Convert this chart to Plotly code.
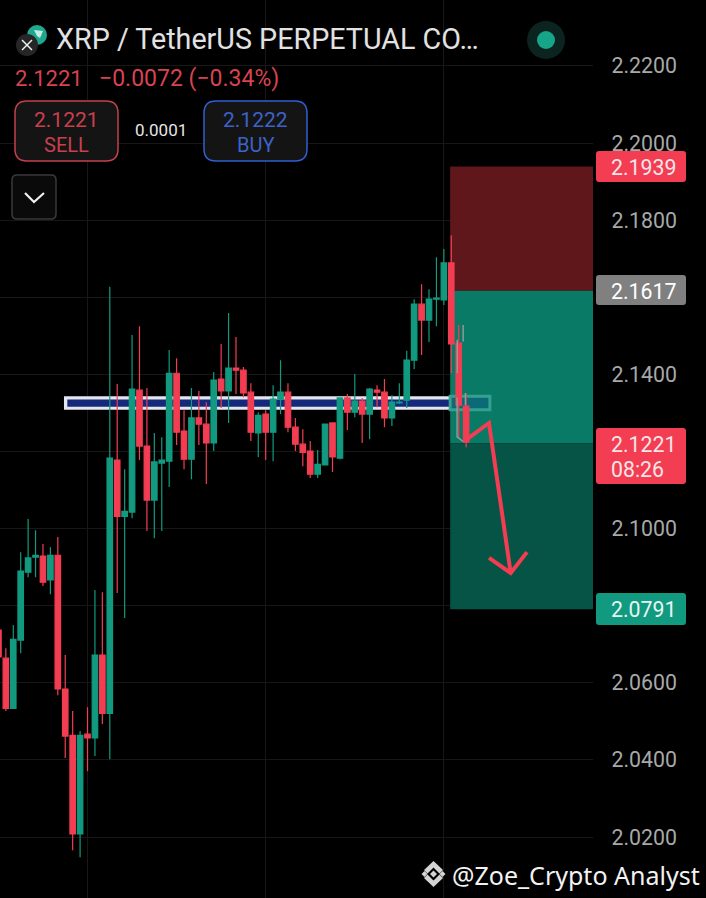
import plotly.graph_objects as go

W, H = 706, 898

# ---- data ----
opens = [2.0737,2.0664,2.0534,2.0711,2.0887,2.0926,2.0929,2.0867,2.0931,2.0584,2.0464,2.0208,2.0467,2.0457,2.0672,2.0521,
         2.1178,2.1032,2.1043,2.1359,2.1214,2.1074,2.1170,2.1175,2.1403,2.1253,2.1180,2.1287,2.1271,2.1222,2.1388,2.1357,
         2.1416,2.1411,2.1354,2.1248,2.1297,2.1250,2.1336,2.1354,2.1263,2.1219,2.1201,2.1141,2.1165,2.1274,2.1183,2.1339,
         2.1302,2.1331,2.1297,2.1359,2.1354,2.1287,2.1326,2.1333,2.1437,2.1582,2.1541,2.1595,2.1593,2.1689,2.1481,2.1318]
highs = [2.0737,2.0690,2.0750,2.0939,2.1025,2.0996,2.0960,2.0952,2.0978,2.0672,2.0527,2.0475,2.0537,2.0841,2.0835,2.1627,
         2.1375,2.1154,2.1502,2.1525,2.1365,2.1248,2.1237,2.1463,2.1442,2.1307,2.1365,2.1357,2.1328,2.1406,2.1479,2.1559,
         2.1497,2.1419,2.1377,2.1302,2.1307,2.1372,2.1437,2.1377,2.1287,2.1258,2.1227,2.1204,2.1271,2.1274,2.1341,2.1349,
         2.1401,2.1339,2.1365,2.1372,2.1388,2.1346,2.1377,2.1461,2.1595,2.1634,2.1621,2.1704,2.1725,2.1761,2.1528,2.1352]
lows = [2.0667,2.0527,2.0534,2.0677,2.0874,2.0874,2.0851,2.0830,2.0568,2.0405,2.0166,2.0148,2.0371,2.0410,2.0493,2.0402,
        2.0833,2.0768,2.1027,2.1178,2.0994,2.0975,2.0994,2.1108,2.1217,2.1154,2.1128,2.1217,2.1116,2.1201,2.1313,2.1274,
        2.1349,2.1341,2.1227,2.1186,2.1178,2.1175,2.1297,2.1250,2.1201,2.1162,2.1131,2.1131,2.1165,2.1147,2.1180,2.1256,
        2.1289,2.1222,2.1232,2.1315,2.1263,2.1266,2.1323,2.1313,2.1414,2.1450,2.1484,2.1525,2.1580,2.1403,2.1235,2.1211]
closes = [2.0667,2.0534,2.0713,2.0890,2.0924,2.0931,2.0861,2.0931,2.0584,2.0462,2.0208,2.0464,2.0457,2.0672,2.0521,2.1183,
          2.1032,2.1045,2.1362,2.1214,2.1074,2.1173,2.1178,2.1403,2.1250,2.1180,2.1287,2.1271,2.1222,2.1385,2.1357,2.1416,
          2.1411,2.1352,2.1250,2.1294,2.1250,2.1336,2.1354,2.1263,2.1219,2.1198,2.1141,2.1167,2.1271,2.1186,2.1339,2.1302,
          2.1331,2.1297,2.1362,2.1354,2.1287,2.1328,2.1328,2.1437,2.1582,2.1541,2.1595,2.1598,2.1689,2.1479,2.1320,2.1224]
candle_index = list(range(len(opens)))

y_ticks = [2.22, 2.20, 2.18, 2.16, 2.14, 2.12, 2.10, 2.08, 2.06, 2.04, 2.02]
y_tick_labels = ["2.2200", "2.2000", "2.1800", "", "2.1400", "", "2.1000", "", "2.0600", "2.0400", "2.0200"]
grid_candles = [12, 36, 60]

stop_price, entry_price, last_price, target_price = 2.1939, 2.1617, 2.1221, 2.0791
position_start, position_end = 60.85, 80.09
zone_top, zone_bottom = 2.1335, 2.1316
zone_pad = 0.0008
zone_start, zone_mid, zone_end = 8.83, 60.85, 66.2

arrow_candles = [62.98, 66.08, 69.0]
arrow_prices = [2.1230, 2.1274, 2.0885]
arrow_head_candles = [66.08, 69.0, 71.2]
arrow_head_prices = [2.0924, 2.0885, 2.0939]
ghost_candles = [61.8, 61.8, None, 62.6, 62.6, None, 61.78, 61.78, 62.6, None, 62.9, 62.9]
ghost_prices = [2.1490, 2.1403, None, 2.1528, 2.1485, None, 2.1340, 2.1238, 2.1226, None, 2.1352, 2.1320]

RED, GREEN = "#f23d52", "#119a7f"
FONT = "Roboto"

# mapping between the photographed window and the axes
x_range = [0.2115, 95.31]
y_range = [2.0042, 2.2371]

def px(x): return x / W
def py(y): return 1 - y / H

def rrect(x0, y0, x1, y1, r, fill, line=None, lw=1.5, layer="above"):
    X0, X1, Y0, Y1 = px(x0), px(x1), py(y0), py(y1)
    rx, ry = r / W, r / H
    p = (f"M{X0+rx},{Y0} L{X1-rx},{Y0} Q{X1},{Y0} {X1},{Y0-ry} L{X1},{Y1+ry} Q{X1},{Y1} {X1-rx},{Y1} "
         f"L{X0+rx},{Y1} Q{X0},{Y1} {X0},{Y1+ry} L{X0},{Y0-ry} Q{X0},{Y0} {X0+rx},{Y0} Z")
    return dict(type="path", path=p, xref="paper", yref="paper", fillcolor=fill,
                line=dict(color=line or fill, width=lw if line else 0), layer=layer)

def circle(cx, cy, r, fill):
    return dict(type="circle", xref="paper", yref="paper", x0=px(cx-r), x1=px(cx+r), y0=py(cy+r), y1=py(cy-r),
                fillcolor=fill, line=dict(width=0), layer="above")

def polyline(pts, color, lw):
    d = "M" + " L".join(f"{px(a)},{py(b)}" for a, b in pts)
    return dict(type="path", path=d, xref="paper", yref="paper", line=dict(color=color, width=lw), layer="above")

def polygon(pts, fill):
    d = "M" + " L".join(f"{px(a)},{py(b)}" for a, b in pts) + " Z"
    return dict(type="path", path=d, xref="paper", yref="paper", fillcolor=fill, line=dict(width=0), layer="above")

def label(x, y, text, size, color, anchor="center", font=FONT):
    return dict(x=px(x), y=py(y), xref="paper", yref="paper", text=text, showarrow=False, xanchor=anchor,
                yanchor="middle", font=dict(family=font, size=size, color=color), borderpad=0, borderwidth=0)

def box(x0, x1, y0, y1, fill, line=None):
    return dict(type="rect", x0=x0, x1=x1, y0=y0, y1=y1, fillcolor=fill, line=line or dict(width=0), layer="between")

def data_path(xs, ys, color, lw):
    segs, pen = [], "M"
    for a, b in zip(xs, ys):
        if a is None:
            pen = "M"
            continue
        segs.append(f"{pen}{a},{b}")
        pen = "L"
    return dict(type="path", path=" ".join(segs), line=dict(color=color, width=lw), layer="above")

shapes = [
    # price-scale strip hides the grid right of the pane
    box(position_end, x_range[1], y_range[0], y_range[1], "#000000"),
    box(position_start, position_end, entry_price, stop_price, "#5f171c"),
    box(position_start, position_end, last_price, entry_price, "#087a66"),
    box(position_start, position_end, target_price, last_price, "#065446"),
    # support band
    box(zone_start, zone_mid, zone_bottom - zone_pad, zone_top + zone_pad, "#e4e6ee"),
    box(zone_start + 0.45, zone_mid, zone_bottom, zone_top, "#14297a"),
    box(zone_mid, zone_end, zone_bottom - zone_pad, zone_top + zone_pad, "#0b6a78", dict(color="#35a08f", width=3)),
    # grey ghost wicks and drawn arrow
    data_path(ghost_candles, ghost_prices, "#8f9f9b", 1.4),
    data_path(arrow_candles, arrow_prices, RED, 4),
    data_path(arrow_head_candles, arrow_head_prices, RED, 4),
]
# price tags
shapes += [
    rrect(596, 151, 686, 182, 3, "#f23d52"),
    rrect(596, 275, 686, 305, 3, "#808080"),
    rrect(596, 428, 686, 484, 3, "#f23d52"),
    rrect(596, 593, 686, 625, 3, "#119a7f"),
]
# header widgets
shapes += [
    rrect(15, 101, 118, 161, 12, "#141414", "#c4404b", 1.5),
    rrect(204, 101, 307, 161, 12, "#141414", "#2f5fd0", 1.5),
    rrect(12, 175, 56, 219, 5, "#0a0a0a", "#3a3a3a", 1.5),
    polyline([(25, 193), (34, 202), (44, 193)], "#f0f0f0", 2.2),
    circle(37, 35, 10, "#1fa88e"),
    polygon([(34, 30), (43, 31), (40, 38), (37, 36)], "#c6ebe2"),
    circle(27, 45, 11, "#262626"),
    polyline([(22, 40), (32, 50)], "#f0f0f0", 1.5),
    polyline([(32, 40), (22, 50)], "#f0f0f0", 1.5),
    circle(546, 40, 19, "#0c2420"),
    circle(546, 40, 9, "#17a589"),
    # logo
    polygon([(433.5, 861), (443, 870), (439.5, 873.5), (433.5, 867.5), (427.5, 873.5), (424, 870)], "#d4d4d4"),
    polygon([(433.5, 887), (443, 878), (439.5, 874.5), (433.5, 880.5), (427.5, 874.5), (424, 878)], "#d4d4d4"),
    polygon([(433.5, 870.5), (437, 874), (433.5, 877.5), (430, 874)], "#d4d4d4"),
    polygon([(424.5, 871), (427.5, 874), (424.5, 877), (421.5, 874)], "#d4d4d4"),
    polygon([(442.5, 871), (445.5, 874), (442.5, 877), (439.5, 874)], "#d4d4d4"),
]

TAG_TEXT = "#f6e6e8"
annotations = [
    label(56, 39, "XRP / TetherUS PERPETUAL CO…", 28.7, "#e2e2e2", "left"),
    label(15, 79, "2.1221", 22, "#d8434f", "left"),
    label(99, 79, "−0.0072 (−0.34%)", 23, "#d8434f", "left"),
    label(66.5, 120, "2.1221", 21, "#c8404b"),
    label(66.5, 145, "SELL", 20, "#c8404b"),
    label(161, 130, "0.0001", 17, "#e6e6e6"),
    label(255.5, 120, "2.1222", 21, "#3d62c8"),
    label(255.5, 145, "BUY", 20, "#3d62c8"),
    label(611, 167, f"{stop_price:.4f}", 21.3, TAG_TEXT, "left"),
    label(611, 291, f"{entry_price:.4f}", 21.3, "#ffffff", "left"),
    label(611, 444, f"{last_price:.4f}", 21.3, TAG_TEXT, "left"),
    label(611, 469, "08:26", 21.3, TAG_TEXT, "left"),
    label(611, 609, f"{target_price:.4f}", 21.3, "#e6f6f2", "left"),
    label(452, 875, "@Zoe_Crypto Analyst", 25, "#f2f2f2", "left", "Noto Sans"),
]

fig = go.Figure(go.Candlestick(
    x=candle_index, open=opens, high=highs, low=lows, close=closes,
    increasing=dict(line=dict(color=GREEN, width=1.2), fillcolor=GREEN),
    decreasing=dict(line=dict(color=RED, width=1.2), fillcolor=RED),
    whiskerwidth=0, showlegend=False, hoverinfo="skip",
))

fig.update_layout(
    width=W, height=H, margin=dict(l=0, r=0, t=0, b=0),
    paper_bgcolor="#000000", plot_bgcolor="#000000", boxgap=0.26, boxgroupgap=0, showlegend=False,
    shapes=shapes, annotations=annotations,
    xaxis=dict(range=x_range, tickvals=grid_candles, showticklabels=False, ticks="", showgrid=True,
               gridcolor="#171717", gridwidth=1, zeroline=False, rangeslider=dict(visible=False), showline=False),
    yaxis=dict(range=y_range, side="right", tickvals=y_ticks, ticktext=y_tick_labels, ticks="", showgrid=True,
               gridcolor="#171717", gridwidth=1, zeroline=False, showline=False, ticklabelposition="inside",
               ticklabelstandoff=26, tickfont=dict(family=FONT, size=21.3, color="#a8a8a8")),
)

fig.write_html("out.html", post_script="document.body.style.margin='0';", config=dict(displayModeBar=False))
